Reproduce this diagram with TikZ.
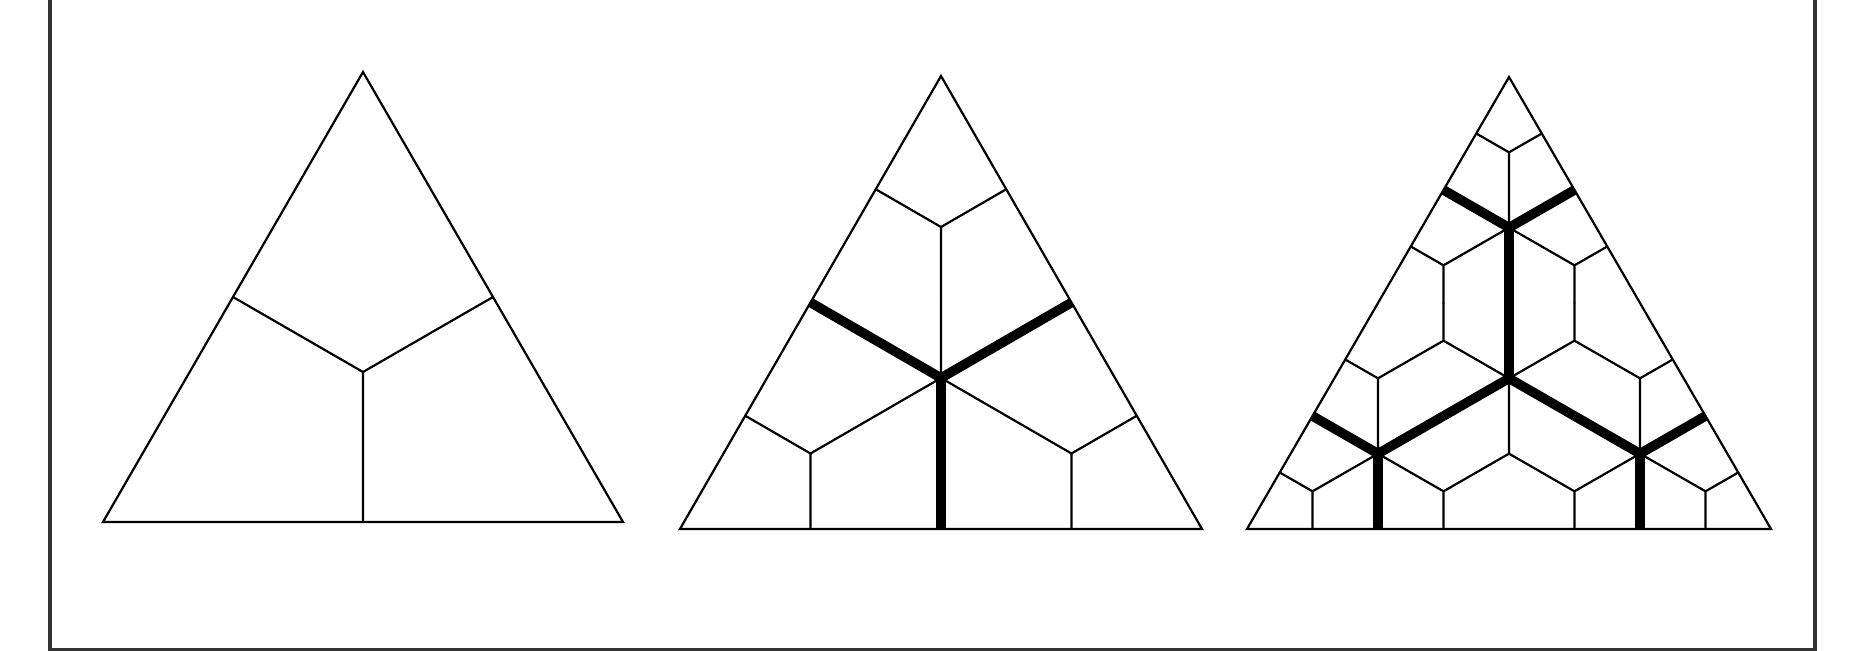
\documentclass[tikz,border=0pt]{standalone}
\usetikzlibrary{calc}
\tikzset{
  thinline/.style={line width=1.1pt, black, line join=round, line cap=round},
  thickline/.style={line width=4.8pt, black, line join=miter},
  outline/.style={line width=1.1pt, black, line join=miter},
  framebox/.style={line width=1.6pt, black!80}
}
\newcommand\drawstars[2]{%
  \pgfmathtruncatemacro\nm{#1-1}%
  \foreach \i in {0,...,\nm}{%
    \foreach \j in {0,...,\nm}{%
      \pgfmathtruncatemacro\s{\i+\j}%
      \ifnum\s<#1\relax
        \draw[#2] ({(\i+0.5)/#1},{\j/#1}) -- ({(\i+1/3)/#1},{(\j+1/3)/#1}) -- ({\i/#1},{(\j+0.5)/#1})
          ({(\i+1/3)/#1},{(\j+1/3)/#1}) -- ({(\i+0.5)/#1},{(\j+0.5)/#1});
      \fi
      \ifnum\s<\nm\relax
        \draw[#2] ({(\i+1)/#1},{(\j+0.5)/#1}) -- ({(\i+2/3)/#1},{(\j+2/3)/#1}) -- ({(\i+0.5)/#1},{(\j+1)/#1})
          ({(\i+2/3)/#1},{(\j+2/3)/#1}) -- ({(\i+0.5)/#1},{(\j+0.5)/#1});
      \fi
    }%
  }%
}
\begin{document}
\begin{tikzpicture}[x=0.5pt,y=-0.5pt]
\useasboundingbox (0,0) rectangle (1870,651);
\fill[white] (0,0) rectangle (1870,651);
% frame (top lies outside the picture)
\draw[framebox] (50,-20) -- (50,650) -- (1815,650) -- (1815,-20);
% triangle 1
\begin{scope}[shift={(51.5pt,-261pt)}, x={(260pt,0pt)}, y={(130pt,225pt)}]
  \drawstars{1}{thinline}
  \draw[outline] (0,0) -- (1,0) -- (0,1) -- cycle;
\end{scope}
% triangle 2
\begin{scope}[shift={(340pt,-264.5pt)}, x={(261pt,0pt)}, y={(130.5pt,226.5pt)}]
  \drawstars{2}{thinline}
  \drawstars{1}{thickline}
  \draw[outline] (0,0) -- (1,0) -- (0,1) -- cycle;
\end{scope}
% triangle 3
\begin{scope}[shift={(623.5pt,-264.5pt)}, x={(262pt,0pt)}, y={(131pt,226pt)}]
  \drawstars{4}{thinline}
  \drawstars{2}{thickline}
  \draw[outline] (0,0) -- (1,0) -- (0,1) -- cycle;
\end{scope}
\end{tikzpicture}
\end{document}
